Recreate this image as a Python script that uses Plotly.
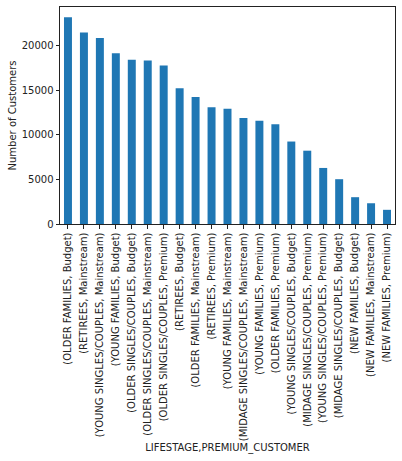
import plotly.graph_objects as go

segments = [
    "(OLDER FAMILIES, Budget)",
    "(RETIREES, Mainstream)",
    "(YOUNG SINGLES/COUPLES, Mainstream)",
    "(YOUNG FAMILIES, Budget)",
    "(OLDER SINGLES/COUPLES, Budget)",
    "(OLDER SINGLES/COUPLES, Mainstream)",
    "(OLDER SINGLES/COUPLES, Premium)",
    "(RETIREES, Budget)",
    "(OLDER FAMILIES, Mainstream)",
    "(RETIREES, Premium)",
    "(YOUNG FAMILIES, Mainstream)",
    "(MIDAGE SINGLES/COUPLES, Mainstream)",
    "(YOUNG FAMILIES, Premium)",
    "(OLDER FAMILIES, Premium)",
    "(YOUNG SINGLES/COUPLES, Budget)",
    "(MIDAGE SINGLES/COUPLES, Premium)",
    "(YOUNG SINGLES/COUPLES, Premium)",
    "(MIDAGE SINGLES/COUPLES, Budget)",
    "(NEW FAMILIES, Budget)",
    "(NEW FAMILIES, Mainstream)",
    "(NEW FAMILIES, Premium)",
]
customers = [23160, 21466, 20854, 19122, 18407, 18318, 17754, 15201, 14244, 13096,
             12907, 11874, 11563, 11192, 9242, 8216, 6281, 5020, 3005, 2325, 1589]
y_ticks = [0, 5000, 10000, 15000, 20000]

font = dict(family="DejaVu Sans", size=10, color="#222")

fig = go.Figure(go.Bar(x=segments, y=customers, marker_color="#1f77b4", marker_line_width=0))

fig.update_layout(
    width=402, height=461,
    margin=dict(l=60, r=7, t=7, b=237),
    plot_bgcolor="white", paper_bgcolor="white",
    bargap=0.5, showlegend=False, font=font,
)
fig.update_xaxes(
    type="category", range=[-0.5, len(segments) - 0.5], tickangle=-90,
    ticks="outside", ticklen=3.5, tickcolor="#222", tickfont=font,
    showline=True, linecolor="#222", linewidth=1, mirror=True, showgrid=False,
    title=dict(text="LIFESTAGE,PREMIUM_CUSTOMER", font=font, standoff=3),
    automargin=False,
)
fig.update_yaxes(
    range=[0, max(customers) * 1.05], tickvals=y_ticks, tickformat="d",
    ticks="outside", ticklen=3.5, tickcolor="#222", tickfont=font,
    showline=True, linecolor="#222", linewidth=1, mirror=True, showgrid=False, zeroline=False,
    title=dict(text="Number of Customers", font=font, standoff=3),
    automargin=False,
)

fig.write_html("out.html", config={"displayModeBar": False},
               post_script="document.body.style.margin='0';")
